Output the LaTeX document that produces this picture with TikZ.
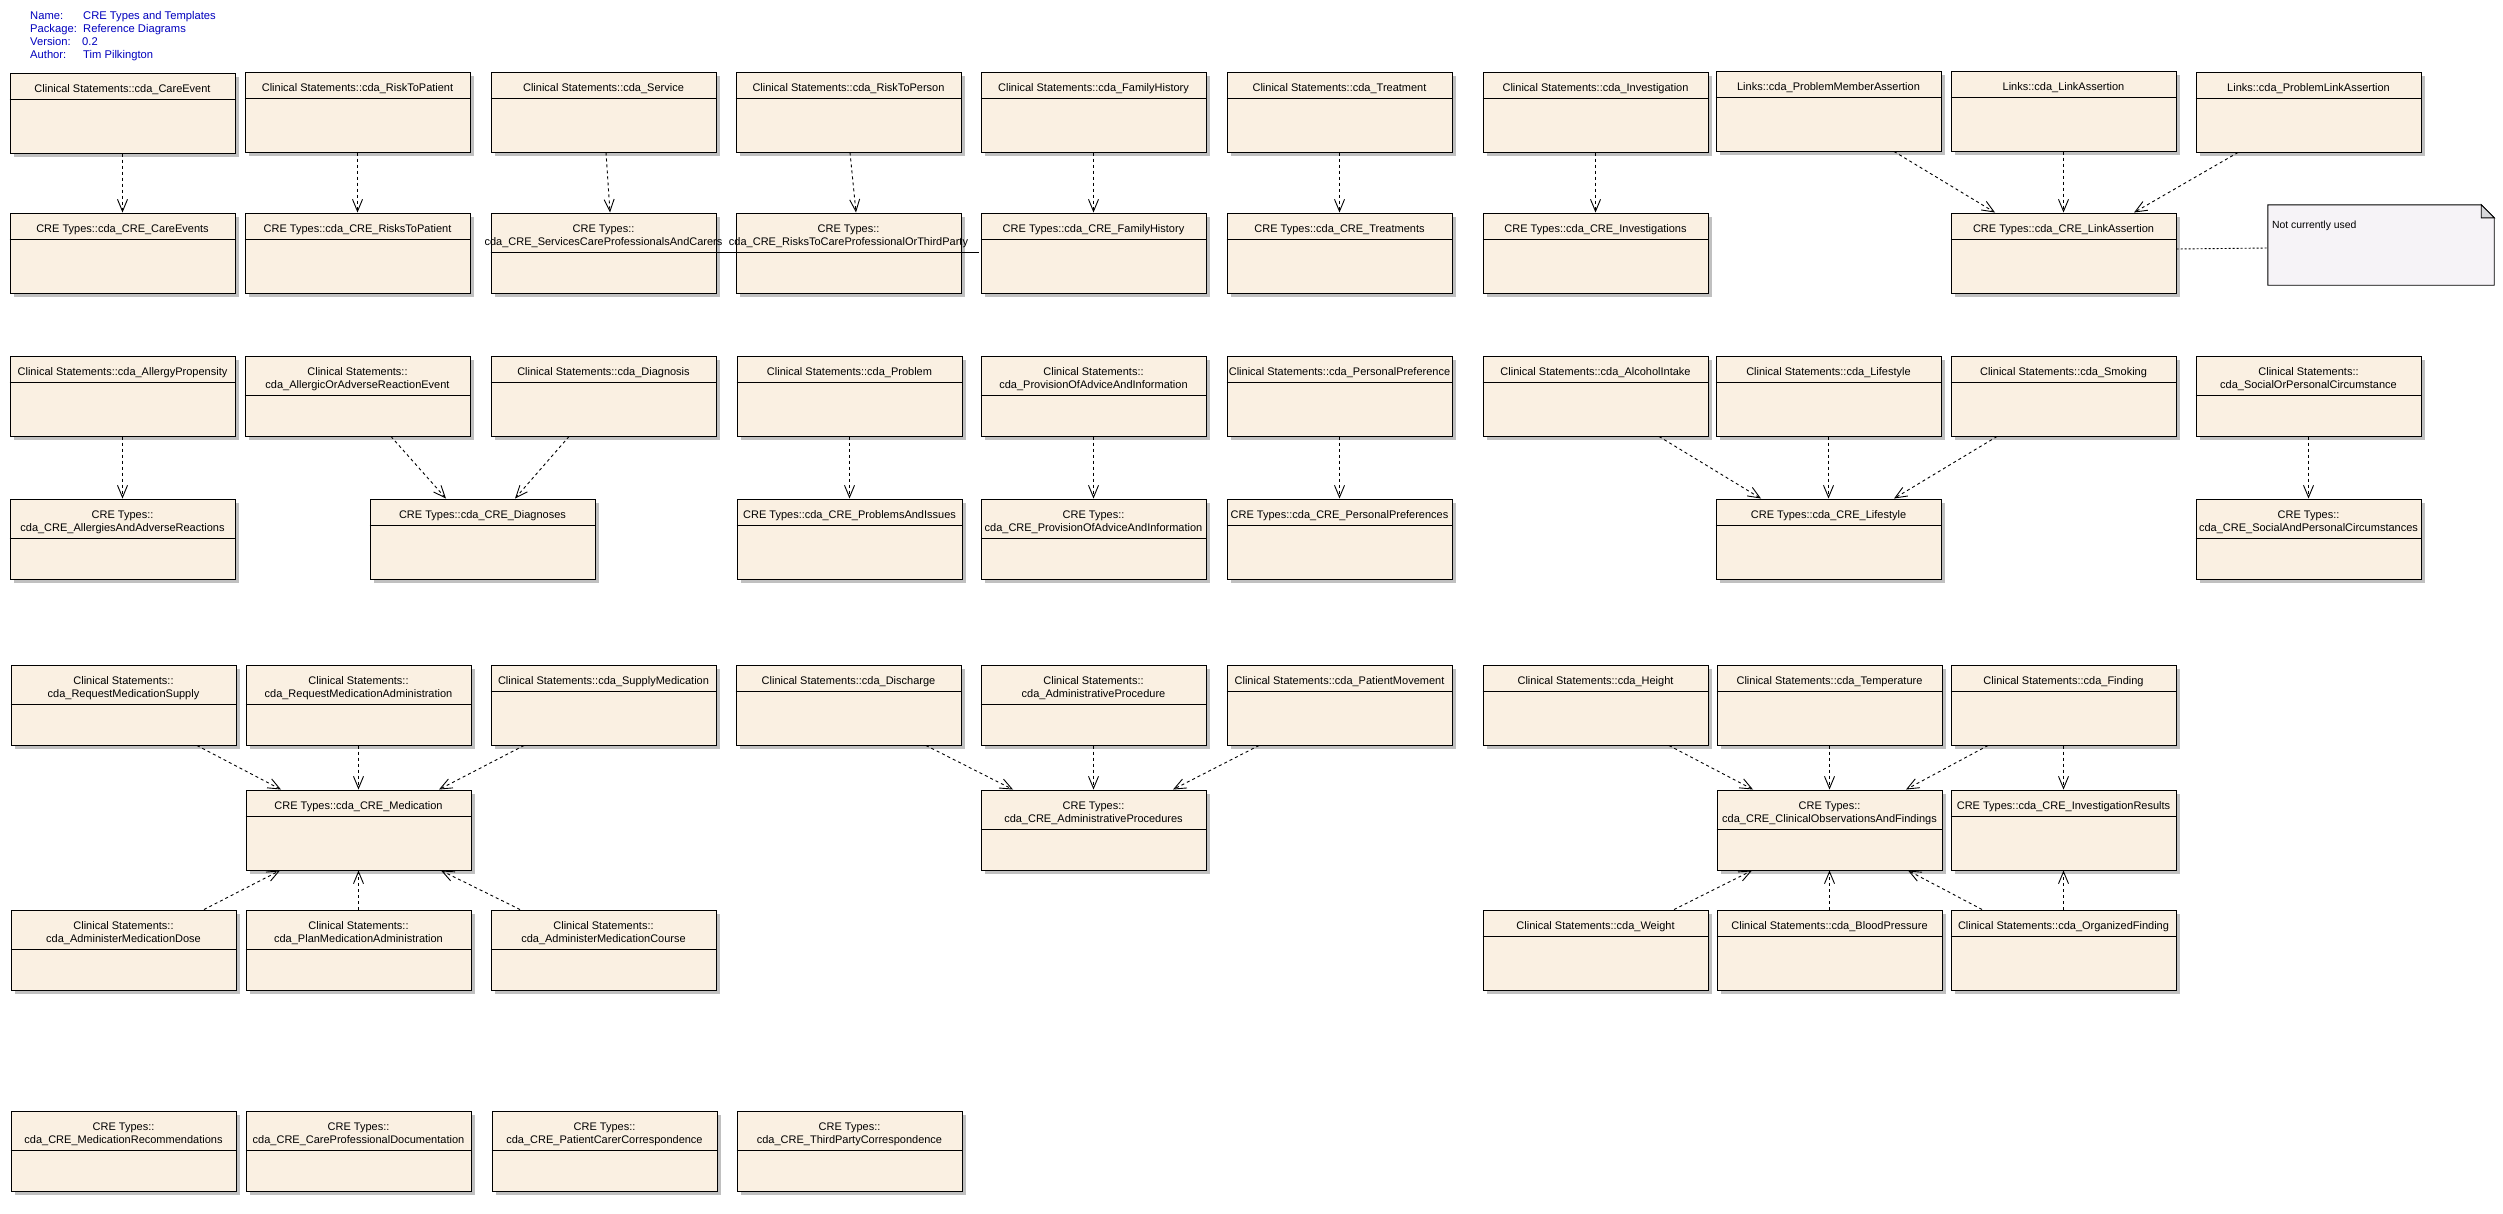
\documentclass[tikz,border=0pt]{standalone}
\usepackage{fontspec}
\setmainfont{Liberation Sans}
\usetikzlibrary{arrows.meta,shadows}
\definecolor{clsfill}{RGB}{250,240,226}
\definecolor{shadowgray}{RGB}{192,192,192}
\definecolor{notefill}{RGB}{246,243,247}
\definecolor{foldgray}{RGB}{215,215,218}
\definecolor{hdrblue}{RGB}{0,0,190}
\tikzset{
  cls/.style={draw=black, line width=1pt, fill=clsfill, minimum width=225pt, minimum height=80pt, inner sep=0pt,
    drop shadow={shadow xshift=4pt, shadow yshift=-4pt, fill=shadowgray, opacity=1}},
  hline/.style={draw=black, line width=1pt},
  ttl/.style={anchor=base, inner sep=0pt, font=\fontsize{11}{13}\selectfont},
  hdr/.style={anchor=base west, inner sep=0pt, text=hdrblue, font=\fontsize{11.2}{13}\selectfont},
  conn/.style={draw=black, line width=0.9pt, dash pattern=on 3pt off 3pt,
    -{Straight Barb[length=12pt,width=10pt,line width=0.9pt]}},
  noteline/.style={draw=black, line width=0.9pt, dash pattern=on 2pt off 2pt},
  notebg/.style={minimum width=226pt, minimum height=80pt, inner sep=0pt},
  notetxt/.style={anchor=base west, inner sep=0pt, font=\fontsize{10.4}{12}\selectfont}
}
\newcommand\clsone[4]{%
  \node[cls] (#1) at (#2+112.5,#3+40) {};
  \draw[hline] ([yshift=-27pt]#1.north west) -- ([yshift=-27pt]#1.north east);
  \node[ttl] (#1-a) at ([yshift=-19.5pt]#1.north) {#4};}
\newcommand\clstwo[5]{%
  \node[cls] (#1) at (#2+112.5,#3+40) {};
  \draw[hline] ([yshift=-40pt]#1.north west) -- ([yshift=-40pt]#1.north east);
  \node[ttl] (#1-a) at ([yshift=-19.5pt]#1.north) {#4};
  \node[ttl] (#1-b) at ([yshift=-32.5pt]#1.north) {#5};}
\begin{document}
\begin{tikzpicture}[x=1pt,y=-1pt]
\fill[white] (0,0) rectangle (2503,1213);
\useasboundingbox (0,0) rectangle (2503,1213);
% header block
\node[hdr] (hn1) at (30,19.5) {Name:};
\node[hdr] (hv1) at (83,19.5) {CRE Types and Templates};
\node[hdr] (hn2) at (30,32.5) {Package:};
\node[hdr] (hv2) at (83,32.5) {Reference Diagrams};
\node[hdr] (hn3) at (30,45.5) {Version:};
\node[hdr] (hv3) at (82,45.5) {0.2};
\node[hdr] (hn4) at (30,58.5) {Author:};
\node[hdr] (hv4) at (83,58.5) {Tim Pilkington};
% ---------- row 1 ----------
\clsone{careS}{10}{73}{Clinical Statements::cda\_CareEvent}
\clsone{rtpS}{245}{72}{Clinical Statements::cda\_RiskToPatient}
\clsone{svcS}{491}{72}{Clinical Statements::cda\_Service}
\clsone{rtperS}{736}{72}{Clinical Statements::cda\_RiskToPerson}
\clsone{fhS}{981}{72}{Clinical Statements::cda\_FamilyHistory}
\clsone{trS}{1227}{72}{Clinical Statements::cda\_Treatment}
\clsone{invS}{1483}{72}{Clinical Statements::cda\_Investigation}
\clsone{pmaS}{1716}{71}{Links::cda\_ProblemMemberAssertion}
\clsone{laS}{1951}{71}{Links::cda\_LinkAssertion}
\clsone{plaS}{2196}{72}{Links::cda\_ProblemLinkAssertion}
% ---------- row 2 ----------
\clsone{careT}{10}{213}{CRE Types::cda\_CRE\_CareEvents}
\clsone{rtpT}{245}{213}{CRE Types::cda\_CRE\_RisksToPatient}
\clstwo{svcT}{491}{213}{CRE Types::}{cda\_CRE\_ServicesCareProfessionalsAndCarers}
\clstwo{rtperT}{736}{213}{CRE Types::}{cda\_CRE\_RisksToCareProfessionalOrThirdParty}
\clsone{fhT}{981}{213}{CRE Types::cda\_CRE\_FamilyHistory}
\clsone{trT}{1227}{213}{CRE Types::cda\_CRE\_Treatments}
\clsone{invT}{1483}{213}{CRE Types::cda\_CRE\_Investigations}
\clsone{laT}{1951}{213}{CRE Types::cda\_CRE\_LinkAssertion}
\draw[hline] ([yshift=-40pt]svcT.north west) -- ([xshift=17pt,yshift=-40pt]rtperT.north east);
% note
\node[notebg] (note) at (2268+113,205+40) {};
\filldraw[fill=notefill, draw=black, line width=0.9pt] (note.north west) -- ([xshift=-13pt]note.north east)
  -- ([yshift=-13pt]note.north east) -- (note.south east) -- (note.south west) -- cycle;
\filldraw[fill=foldgray, draw=black, line width=0.9pt] ([xshift=-13pt]note.north east)
  -- ([yshift=-13pt]note.north east) -- ([xshift=-13pt,yshift=-13pt]note.north east) -- cycle;
\node[notetxt] (notet) at ([xshift=4pt,yshift=-24pt]note.north west) {Not currently used};
\draw[noteline] ([yshift=4pt]laT.east) -- ([yshift=-3pt]note.west);
% row 1 arrows
\draw[conn] (careS.south) -- (careT.north);
\draw[conn] (rtpS.south) -- (rtpT.north);
\draw[conn] ([xshift=2.5pt]svcS.south) -- ([xshift=6.5pt]svcT.north);
\draw[conn] ([xshift=1.5pt]rtperS.south) -- ([xshift=7.5pt]rtperT.north);
\draw[conn] (fhS.south) -- (fhT.north);
\draw[conn] (trS.south) -- (trT.north);
\draw[conn] (invS.south) -- (invT.north);
\draw[conn] ([xshift=65.5pt]pmaS.south) -- ([xshift=-68.5pt]laT.north);
\draw[conn] (laS.south) -- (laT.north);
\draw[conn] ([xshift=-70.5pt]plaS.south) -- ([xshift=70.5pt]laT.north);
% ---------- row 3 ----------
\clsone{algS}{10}{356}{Clinical Statements::cda\_AllergyPropensity}
\clstwo{aoaS}{245}{356}{Clinical Statements::}{cda\_AllergicOrAdverseReactionEvent}
\clsone{diaS}{491}{356}{Clinical Statements::cda\_Diagnosis}
\clsone{prbS}{737}{356}{Clinical Statements::cda\_Problem}
\clstwo{provS}{981}{356}{Clinical Statements::}{cda\_ProvisionOfAdviceAndInformation}
\clsone{ppS}{1227}{356}{Clinical Statements::cda\_PersonalPreference}
\clsone{alcS}{1483}{356}{Clinical Statements::cda\_AlcoholIntake}
\clsone{lifS}{1716}{356}{Clinical Statements::cda\_Lifestyle}
\clsone{smkS}{1951}{356}{Clinical Statements::cda\_Smoking}
\clstwo{socS}{2196}{356}{Clinical Statements::}{cda\_SocialOrPersonalCircumstance}
% ---------- row 4 ----------
\clstwo{algT}{10}{499}{CRE Types::}{cda\_CRE\_AllergiesAndAdverseReactions}
\clsone{diaT}{370}{499}{CRE Types::cda\_CRE\_Diagnoses}
\clsone{prbT}{737}{499}{CRE Types::cda\_CRE\_ProblemsAndIssues}
\clstwo{provT}{981}{499}{CRE Types::}{cda\_CRE\_ProvisionOfAdviceAndInformation}
\clsone{ppT}{1227}{499}{CRE Types::cda\_CRE\_PersonalPreferences}
\clsone{lifT}{1716}{499}{CRE Types::cda\_CRE\_Lifestyle}
\clstwo{socT}{2196}{499}{CRE Types::}{cda\_CRE\_SocialAndPersonalCircumstances}
% row 3 arrows
\draw[conn] (algS.south) -- (algT.north);
\draw[conn] ([xshift=33.5pt]aoaS.south) -- ([xshift=-36.5pt]diaT.north);
\draw[conn] ([xshift=-34.5pt]diaS.south) -- ([xshift=32.5pt]diaT.north);
\draw[conn] (prbS.south) -- (prbT.north);
\draw[conn] (provS.south) -- (provT.north);
\draw[conn] (ppS.south) -- (ppT.north);
\draw[conn] ([xshift=63.5pt]alcS.south) -- ([xshift=-67.5pt]lifT.north);
\draw[conn] (lifS.south) -- (lifT.north);
\draw[conn] ([xshift=-66.5pt]smkS.south) -- ([xshift=65.5pt]lifT.north);
\draw[conn] (socS.south) -- (socT.north);
% ---------- row 5 ----------
\clstwo{rmsS}{11}{665}{Clinical Statements::}{cda\_RequestMedicationSupply}
\clstwo{rmaS}{246}{665}{Clinical Statements::}{cda\_RequestMedicationAdministration}
\clsone{supS}{491}{665}{Clinical Statements::cda\_SupplyMedication}
\clsone{disS}{736}{665}{Clinical Statements::cda\_Discharge}
\clstwo{admS}{981}{665}{Clinical Statements::}{cda\_AdministrativeProcedure}
\clsone{pmvS}{1227}{665}{Clinical Statements::cda\_PatientMovement}
\clsone{hgtS}{1483}{665}{Clinical Statements::cda\_Height}
\clsone{tmpS}{1717}{665}{Clinical Statements::cda\_Temperature}
\clsone{fndS}{1951}{665}{Clinical Statements::cda\_Finding}
% ---------- row 6 ----------
\clsone{medT}{246}{790}{CRE Types::cda\_CRE\_Medication}
\clstwo{admT}{981}{790}{CRE Types::}{cda\_CRE\_AdministrativeProcedures}
\clstwo{cofT}{1717}{790}{CRE Types::}{cda\_CRE\_ClinicalObservationsAndFindings}
\clsone{irT}{1951}{790}{CRE Types::cda\_CRE\_InvestigationResults}
% ---------- row 7 ----------
\clstwo{amdS}{11}{910}{Clinical Statements::}{cda\_AdministerMedicationDose}
\clstwo{pmaaS}{246}{910}{Clinical Statements::}{cda\_PlanMedicationAdministration}
\clstwo{amcS}{491}{910}{Clinical Statements::}{cda\_AdministerMedicationCourse}
\clsone{wgtS}{1483}{910}{Clinical Statements::cda\_Weight}
\clsone{bpS}{1717}{910}{Clinical Statements::cda\_BloodPressure}
\clsone{ofS}{1951}{910}{Clinical Statements::cda\_OrganizedFinding}
% rows 5-7 arrows
\draw[conn] ([xshift=73.5pt]rmsS.south) -- ([xshift=-77.5pt]medT.north);
\draw[conn] (rmaS.south) -- (medT.north);
\draw[conn] ([xshift=-79.5pt]supS.south) -- ([xshift=80.5pt]medT.north);
\draw[conn] ([xshift=80.5pt]amdS.north) -- ([xshift=-78.5pt]medT.south);
\draw[conn] (pmaaS.north) -- (medT.south);
\draw[conn] ([xshift=-83.5pt]amcS.north) -- ([xshift=82.5pt]medT.south);
\draw[conn] ([xshift=77.5pt]disS.south) -- ([xshift=-80.5pt]admT.north);
\draw[conn] (admS.south) -- (admT.north);
\draw[conn] ([xshift=-80.5pt]pmvS.south) -- ([xshift=79.5pt]admT.north);
\draw[conn] ([xshift=73.5pt]hgtS.south) -- ([xshift=-76.5pt]cofT.north);
\draw[conn] (tmpS.south) -- (cofT.north);
\draw[conn] ([xshift=-75.5pt]fndS.south) -- ([xshift=76.5pt]cofT.north);
\draw[conn] (fndS.south) -- (irT.north);
\draw[conn] ([xshift=78.5pt]wgtS.north) -- ([xshift=-77.5pt]cofT.south);
\draw[conn] (bpS.north) -- (cofT.south);
\draw[conn] ([xshift=-81.5pt]ofS.north) -- ([xshift=78.5pt]cofT.south);
\draw[conn] (ofS.north) -- (irT.south);
% ---------- row 8 ----------
\clstwo{mrT}{11}{1111}{CRE Types::}{cda\_CRE\_MedicationRecommendations}
\clstwo{cpdT}{246}{1111}{CRE Types::}{cda\_CRE\_CareProfessionalDocumentation}
\clstwo{pccT}{492}{1111}{CRE Types::}{cda\_CRE\_PatientCarerCorrespondence}
\clstwo{tpcT}{737}{1111}{CRE Types::}{cda\_CRE\_ThirdPartyCorrespondence}
\end{tikzpicture}
\end{document}
